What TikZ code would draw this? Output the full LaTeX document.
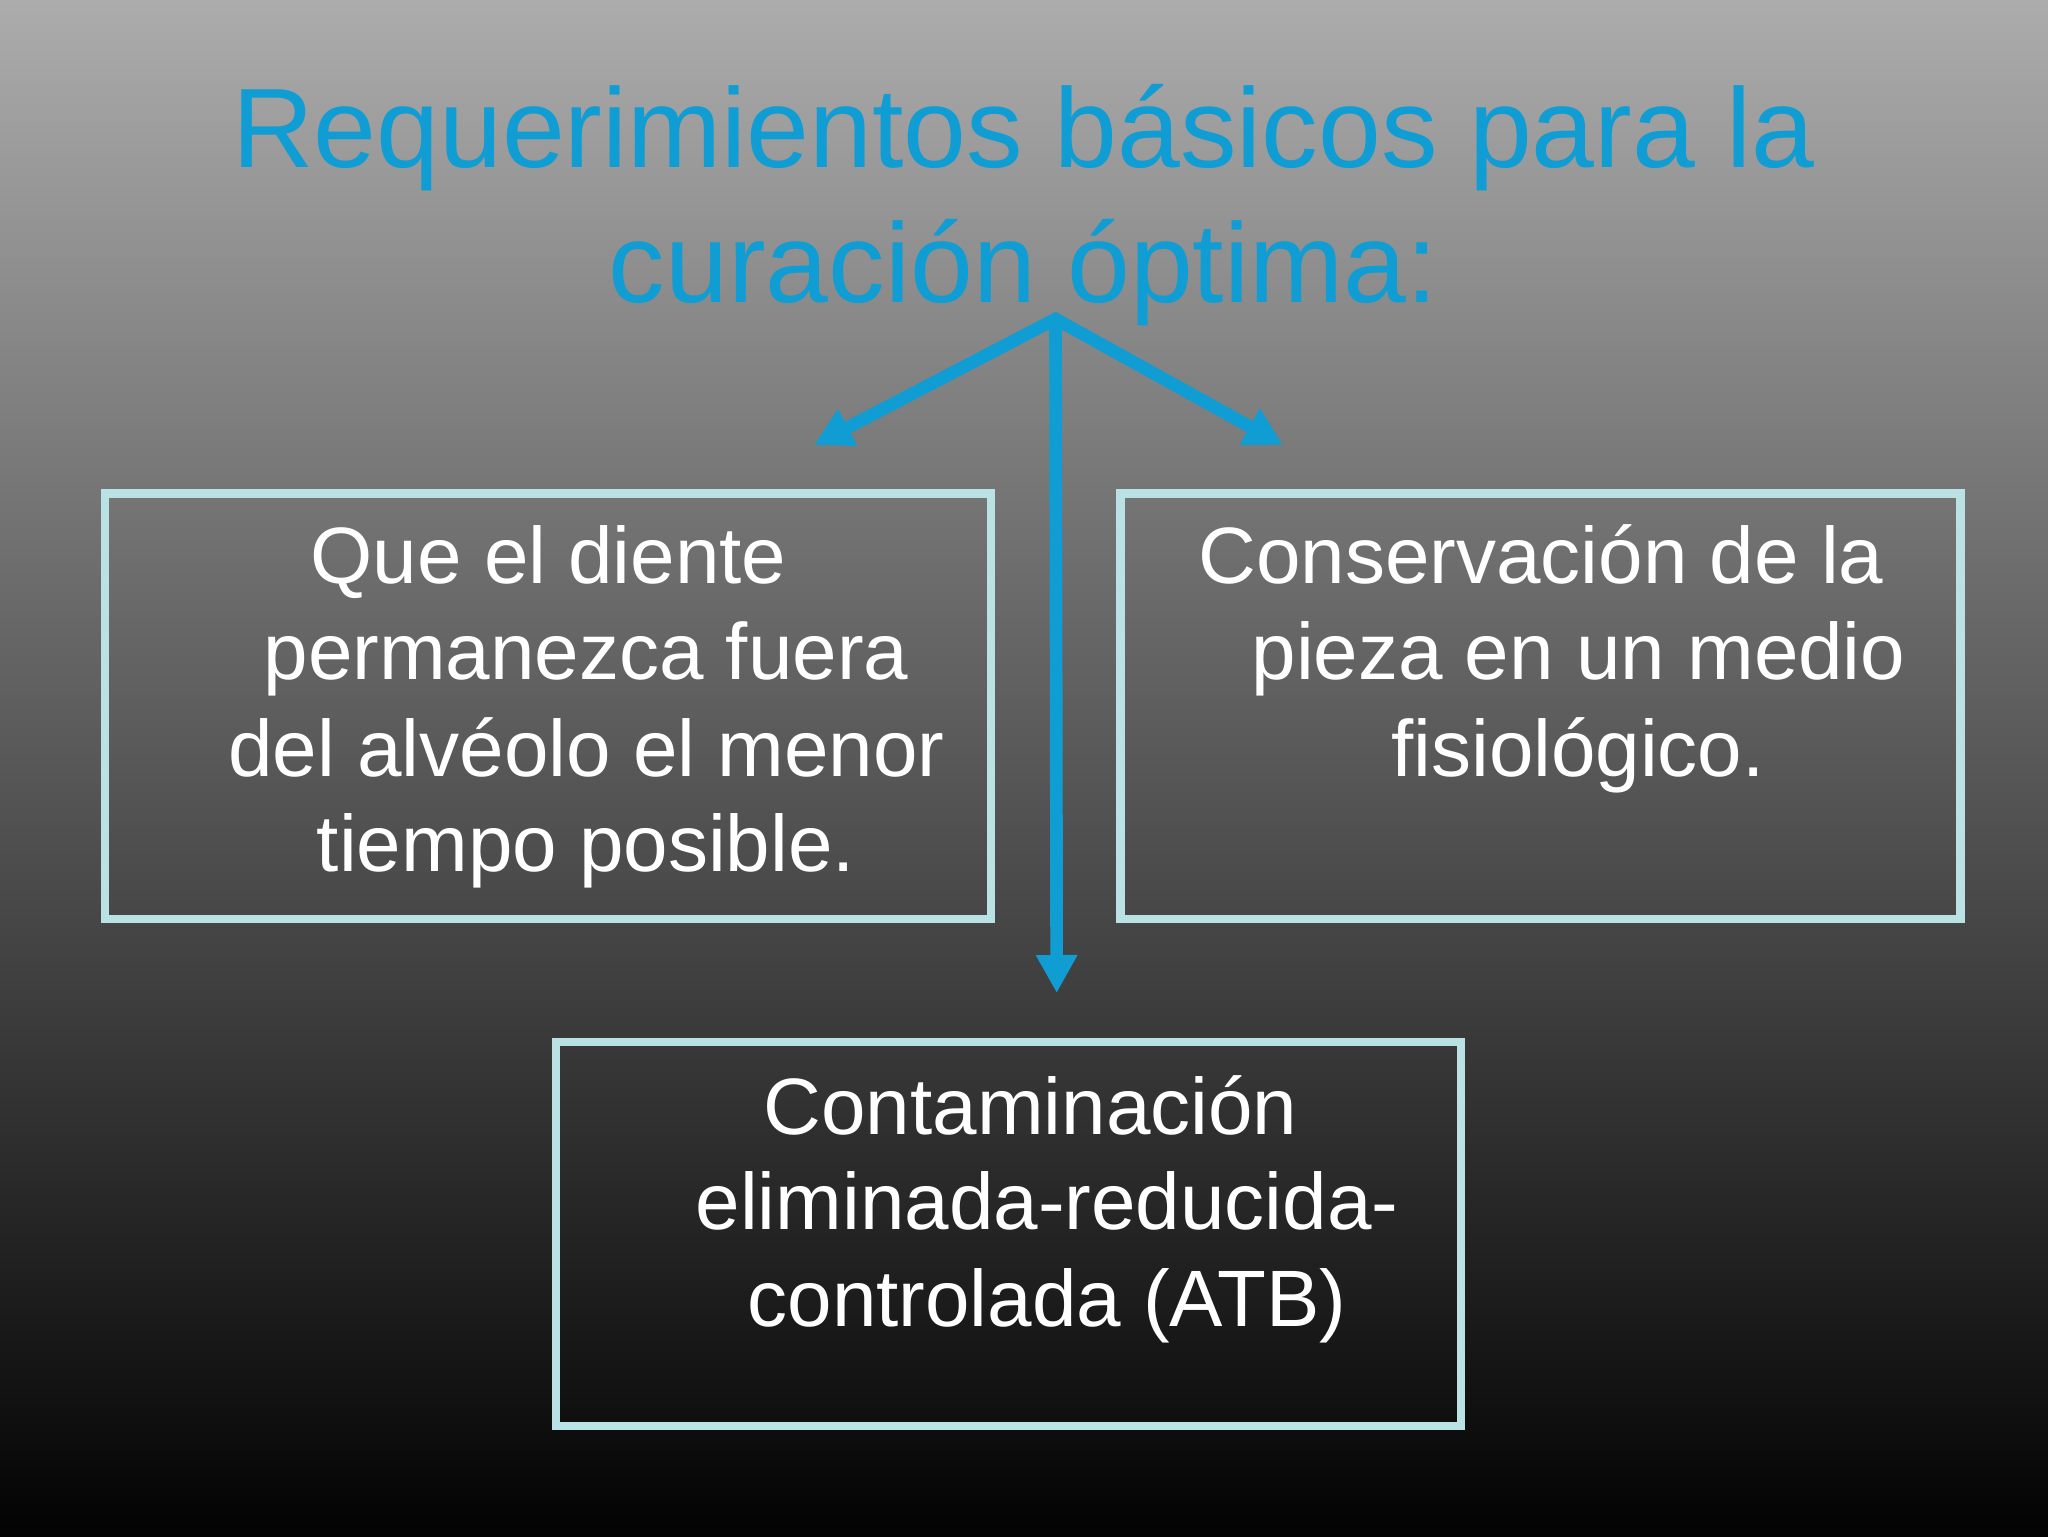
\documentclass[tikz,border=0pt]{standalone}
\usepackage{fontspec}
\setmainfont{Liberation Sans}
\usetikzlibrary{arrows.meta}
\definecolor{accent}{RGB}{16,157,212}
\definecolor{frame}{RGB}{186,226,228}
\definecolor{bgtop}{RGB}{172,172,172}
\definecolor{bgbot}{RGB}{2,2,2}
\tikzset{
  titletext/.style={anchor=base, text=accent, inner sep=0pt, font=\fontsize{56.5}{68}\selectfont},
  bodytext/.style={anchor=base, text=white, inner sep=0pt, font=\fontsize{40}{48}\selectfont},
  framebox/.style={draw=frame, line width=4.25pt, rectangle, inner sep=0pt, fill=none},
  link/.style={draw=accent, line width=6.35pt, line join=miter, -{Triangle[width=19.5pt,length=19pt]}}
}
\begin{document}
\begin{tikzpicture}[x=0.5pt,y=-0.5pt]
\useasboundingbox (0,0) rectangle (2048,1536);
\shade[top color=bgtop, bottom color=bgbot] (0,0) rectangle (2048,1536);

% title
\node[titletext] (t1) at (1023.5,167) {Requerimientos básicos para la};
\node[titletext] (t2) at (1023.5,302) {curación óptima:};

% boxes
\node[framebox, minimum width=443pt, minimum height=212.75pt] (left) at (548,706.25) {};
\node[framebox, minimum width=420pt, minimum height=212.75pt] (right) at (1540.5,706.25) {};
\node[framebox, minimum width=452.5pt, minimum height=192pt] (bottom) at (1008.5,1234) {};

% texts left
\node[bodytext] (l1) at (548.6,583) {Que el diente};
\node[bodytext] (l2) at (586,679) {permanezca fuera};
\node[bodytext] (l3) at (586.5,776) {del alvéolo el menor};
\node[bodytext] (l4) at (586,871) {tiempo posible.};
% texts right
\node[bodytext] (r1) at (1541,583) {Conservación de la};
\node[bodytext] (r2) at (1578.5,679) {pieza en un medio};
\node[bodytext] (r3) at (1578,776) {fisiológico.};
% texts bottom
\node[bodytext] (b1) at (1030.5,1134) {Contaminación};
\node[bodytext] (b2) at (1047,1229) {eliminada-reducida-};
\node[bodytext] (b3) at (1047,1326) {controlada (ATB)};

% connectors
\coordinate (apex) at (1055.5,319);
\coordinate (tipL) at (814,445);
\coordinate (tipR) at (1283,445);
\coordinate (tipD) at (1056.7,993);
\draw[link, {Triangle[width=19.5pt,length=19pt]}-{Triangle[width=19.5pt,length=19pt]}] (tipL) -- (apex) -- (tipR);
\draw[link] (apex) -- (tipD);
\end{tikzpicture}
\end{document}
